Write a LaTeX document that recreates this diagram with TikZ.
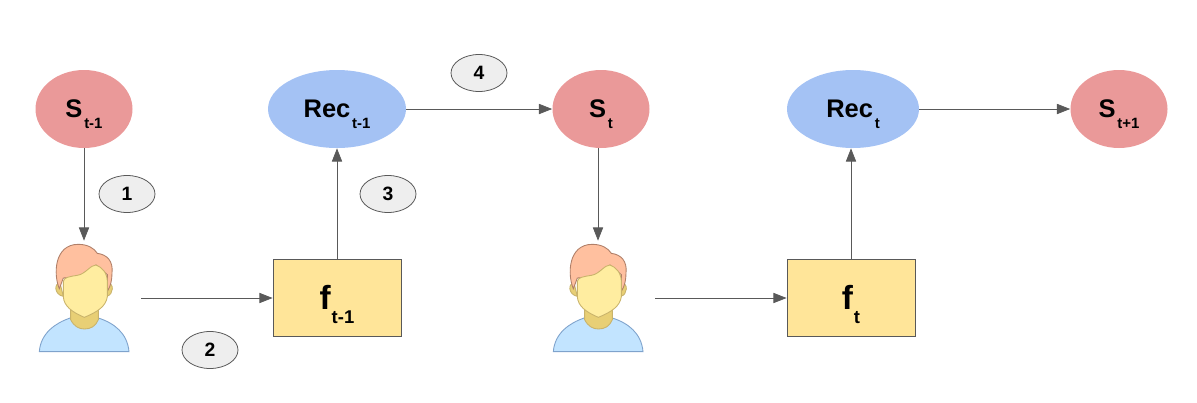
\documentclass[tikz,border=0pt]{standalone}
\usepackage{fontspec}
\setmainfont{Liberation Sans}
\usetikzlibrary{shapes.geometric,arrows.meta}
\pgfdeclarelayer{edgelayer}
\pgfdeclarelayer{nodelayer}
\pgfsetlayers{edgelayer,nodelayer,main}
\definecolor{statered}{HTML}{EA9999}
\definecolor{recblue}{HTML}{A4C2F4}
\definecolor{boxyellow}{HTML}{FFE599}
\definecolor{badgegray}{HTML}{EEEEEE}
\definecolor{linegray}{HTML}{595959}
\definecolor{shirtfill}{HTML}{C2E4FF}
\definecolor{shirtline}{HTML}{7FA3CC}
\definecolor{skinfill}{HTML}{FFEDA0}
\definecolor{skinline}{HTML}{C9B36B}
\definecolor{neckfill}{HTML}{E8CF75}
\definecolor{hairfill}{HTML}{FFC09F}
\definecolor{hairline}{HTML}{B07F68}
\newcommand{\ellabel}[2]{{\bfseries\rule{0pt}{16.5pt}\fontsize{14.5}{14.5}\selectfont #1\kern1pt\raisebox{-6.3pt}{\fontsize{8.5}{8.5}\selectfont #2}}}
\newcommand{\boxlabel}[2]{{\bfseries\rule{0pt}{21pt}\fontsize{19}{19}\selectfont #1\kern0.5pt\raisebox{-8pt}{\fontsize{10.5}{10.5}\selectfont #2}}}
\tikzstyle{none}=[inner sep=0pt]
\tikzstyle{state}=[ellipse,fill=statered,inner sep=0pt,minimum width=1.94cm,minimum height=1.56cm]
\tikzstyle{rec}=[ellipse,fill=recblue,inner sep=0pt,minimum height=1.56cm]
\tikzstyle{func}=[rectangle,fill=boxyellow,draw=linegray,line width=0.5pt,inner sep=0pt,minimum width=2.56cm,minimum height=1.54cm]
\tikzstyle{badge}=[ellipse,fill=badgegray,draw=linegray,line width=0.45pt,inner sep=0pt,minimum width=1.12cm,minimum height=0.74cm,font=\fontsize{11}{11}\selectfont\bfseries]
\tikzstyle{user}=[inner sep=0pt,minimum width=2.28cm,minimum height=2.28cm]
\tikzstyle{arc}=[draw=linegray,line width=0.45pt,-{Triangle[length=7.5pt,width=5.8pt]}]
\tikzset{
	person/.pic={
		\begin{scope}[x=0.00667cm,y=-0.00667cm,line width=0.5pt]
			\filldraw[fill=shirtfill,draw=shirtline] (-134,161) .. controls (-130,105) and (-85,75) .. (-42,60) -- (43,60) .. controls (90,75) and (130,105) .. (135,161) -- cycle;
			\filldraw[fill=neckfill,draw=skinline] (-40,30) -- (-40,65) .. controls (-30,85) and (-15,93) .. (1,93) .. controls (20,93) and (35,85) .. (43,65) -- (43,30) -- cycle;
			\filldraw[fill=neckfill,draw=skinline] (-72,-45) .. controls (-90,-45) and (-90,-10) .. (-62,-5) -- cycle;
			\filldraw[fill=neckfill,draw=skinline] (72,-45) .. controls (90,-45) and (90,-10) .. (68,-5) -- cycle;
			\filldraw[fill=hairfill,draw=hairline] (-74,-28) .. controls (-92,-70) and (-90,-161) .. (-17,-161) .. controls (10,-161) and (30,-150) .. (40,-134) .. controls (70,-130) and (88,-110) .. (84,-75) .. controls (84,-55) and (80,-35) .. (70,-20) -- (70,-70) -- (36,-99) -- (-12,-64) -- (-62,-60) -- cycle;
			\filldraw[fill=skinfill,draw=skinline] (-62,-50) .. controls (-60,-62) and (-45,-64) .. (-20,-68) .. controls (5,-72) and (20,-100) .. (36,-99) .. controls (55,-92) and (70,-75) .. (70,-48) -- (70,-4) .. controls (66,25) and (40,42) .. (1,58) .. controls (-36,42) and (-60,25) .. (-62,-4) -- cycle;
		\end{scope}
	}
}

\begin{document}
\begin{tikzpicture}
	\useasboundingbox (0,0) rectangle (23.94,8.04);
	\begin{pgfonlayer}{nodelayer}
		\node [style=state] (s0) at (1.68, 5.86) {\ellabel{S}{t-1}};
		\node [style=rec,minimum width=2.76cm] (rec0) at (6.74, 5.86) {\ellabel{Rec}{t-1}};
		\node [style=state] (s1) at (12.02, 5.86) {\ellabel{S}{t}};
		\node [style=rec,minimum width=2.64cm] (rec1) at (17.06, 5.86) {\ellabel{Rec}{t}};
		\node [style=state] (s2) at (22.38, 5.86) {\ellabel{S}{t+1}};
		\node [style=user] (user0) at (1.68, 2.08) {};
		\node [style=user] (user1) at (11.96, 2.08) {};
		\node [style=func] (f0) at (6.74, 2.08) {\boxlabel{f}{t-1}};
		\node [style=func] (f1) at (17.02, 2.08) {\boxlabel{f}{t}};
		\node [style=badge] (b1) at (2.54, 4.16) {1};
		\node [style=badge] (b2) at (4.2, 1.04) {2};
		\node [style=badge] (b3) at (7.76, 4.16) {3};
		\node [style=badge] (b4) at (9.58, 6.58) {4};
		\pic at (user0) {person};
		\pic at (user1) {person};
	\end{pgfonlayer}
	\begin{pgfonlayer}{edgelayer}
		\draw[style=arc] (s0.south) to (user0.north);
		\draw[style=arc] (user0.east) to (f0.west |- user0.east);
		\draw[style=arc] (f0.north) to (rec0.south);
		\draw[style=arc] (rec0.east) to (s1.west);
		\draw[style=arc] (user1 |- s1.south) to (user1.north);
		\draw[style=arc] (user1.east) to (f1.west |- user1.east);
		\draw[style=arc] (f1.north) to (f1 |- rec1.south);
		\draw[style=arc] (rec1.east) to (s2.west);
	\end{pgfonlayer}
\end{tikzpicture}
\end{document}
